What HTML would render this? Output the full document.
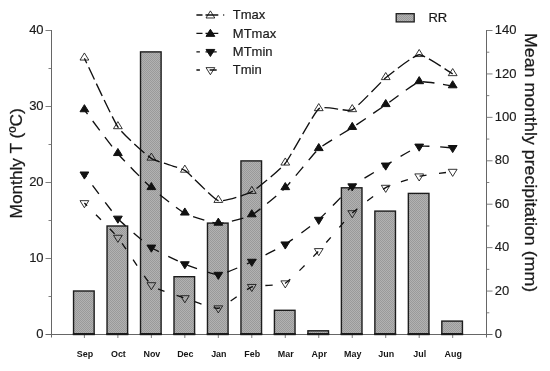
<!DOCTYPE html>
<html><head><meta charset="utf-8"><title>Monthly T and precipitation</title>
<style>
html,body{margin:0;padding:0;background:#fff;}
body{width:550px;height:371px;overflow:hidden;}
svg{display:block;}
text{font-family:"Liberation Sans",Arial,sans-serif;fill:#1a1a1a;}
.tk{font-size:13px;stroke:#1a1a1a;stroke-width:0.15px;}
.mo{font-size:9.5px;font-weight:bold;fill:#151515;}
.lg{font-size:13px;stroke:#1a1a1a;stroke-width:0.2px;}
.ln{fill:none;stroke:#111;stroke-width:1.35;}
</style></head><body>
<svg width="550" height="371" viewBox="0 0 550 371">
<defs><pattern id="dz" width="2" height="2" patternUnits="userSpaceOnUse"><rect width="2" height="2" fill="#b2b2b2"/><rect width="1" height="1" fill="#9a9a9a"/><rect x="1" y="1" width="1" height="1" fill="#9a9a9a"/></pattern></defs>
<rect width="550" height="371" fill="#fff"/>
<g stroke="#666" stroke-width="1" fill="none">
<path d="M51.50 30.00 V337.50"/>
<path d="M486.50 30.00 V337.50"/>
<path d="M45.50 334.50 H492.50"/>
</g>
<g stroke="#707070" stroke-width="0.9" fill="none">
<path d="M48.50 296.50 H51.50"/>
<path d="M45.50 258.50 H51.50"/>
<path d="M48.50 220.50 H51.50"/>
<path d="M45.50 182.50 H51.50"/>
<path d="M48.50 144.50 H51.50"/>
<path d="M45.50 106.50 H51.50"/>
<path d="M48.50 68.50 H51.50"/>
<path d="M45.50 30.50 H51.50"/>
<path d="M486.50 312.79 H489.30"/>
<path d="M486.50 291.07 H492.50"/>
<path d="M486.50 269.36 H489.30"/>
<path d="M486.50 247.64 H492.50"/>
<path d="M486.50 225.93 H489.30"/>
<path d="M486.50 204.21 H492.50"/>
<path d="M486.50 182.50 H489.30"/>
<path d="M486.50 160.79 H492.50"/>
<path d="M486.50 139.07 H489.30"/>
<path d="M486.50 117.36 H492.50"/>
<path d="M486.50 95.64 H489.30"/>
<path d="M486.50 73.93 H492.50"/>
<path d="M486.50 52.21 H489.30"/>
<path d="M486.50 30.50 H492.50"/>
<path d="M84.40 334.50 V338.00"/>
<path d="M117.88 334.50 V338.00"/>
<path d="M151.36 334.50 V338.00"/>
<path d="M184.84 334.50 V338.00"/>
<path d="M218.32 334.50 V338.00"/>
<path d="M251.80 334.50 V338.00"/>
<path d="M285.28 334.50 V338.00"/>
<path d="M318.76 334.50 V338.00"/>
<path d="M352.24 334.50 V338.00"/>
<path d="M385.72 334.50 V338.00"/>
<path d="M419.20 334.50 V338.00"/>
<path d="M452.68 334.50 V338.00"/>
</g>
<g fill="url(#dz)" stroke="#1c1c1c" stroke-width="1.4">
<rect x="73.55" y="291.00" width="20.60" height="43.50"/>
<rect x="107.03" y="226.00" width="20.60" height="108.50"/>
<rect x="140.51" y="51.90" width="20.60" height="282.60"/>
<rect x="173.99" y="276.70" width="20.60" height="57.80"/>
<rect x="207.47" y="223.10" width="20.60" height="111.40"/>
<rect x="240.95" y="160.90" width="20.60" height="173.60"/>
<rect x="274.43" y="310.30" width="20.60" height="24.20"/>
<rect x="307.91" y="330.80" width="20.60" height="3.70"/>
<rect x="341.39" y="187.80" width="20.60" height="146.70"/>
<rect x="374.87" y="211.10" width="20.60" height="123.40"/>
<rect x="408.35" y="193.40" width="20.60" height="141.10"/>
<rect x="441.83" y="321.10" width="20.60" height="13.40"/>
</g>
<g stroke="#1c1c1c" stroke-width="2" fill="none">
<path d="M72.85 334 H94.85"/>
<path d="M106.33 334 H128.33"/>
<path d="M139.81 334 H161.81"/>
<path d="M173.29 334 H195.29"/>
<path d="M206.77 334 H228.77"/>
<path d="M240.25 334 H262.25"/>
<path d="M273.73 334 H295.73"/>
<path d="M307.21 334 H329.21"/>
<path d="M340.69 334 H362.69"/>
<path d="M374.17 334 H396.17"/>
<path d="M407.65 334 H429.65"/>
<path d="M441.13 334 H463.13"/>
</g>
<text class="tk" x="43.6" y="338.20" text-anchor="end">0</text>
<text class="tk" x="43.6" y="262.20" text-anchor="end">10</text>
<text class="tk" x="43.6" y="186.20" text-anchor="end">20</text>
<text class="tk" x="43.6" y="110.20" text-anchor="end">30</text>
<text class="tk" x="43.6" y="34.20" text-anchor="end">40</text>
<text class="tk" x="494.7" y="338.20">0</text>
<text class="tk" x="494.7" y="294.77">20</text>
<text class="tk" x="494.7" y="251.34">40</text>
<text class="tk" x="494.7" y="207.91">60</text>
<text class="tk" x="494.7" y="164.49">80</text>
<text class="tk" x="494.7" y="121.06">100</text>
<text class="tk" x="494.7" y="77.63">120</text>
<text class="tk" x="494.7" y="34.20">140</text>
<text class="mo" transform="translate(84.90 356.5) scale(0.94 1)" text-anchor="middle">Sep</text>
<text class="mo" transform="translate(118.38 356.5) scale(0.94 1)" text-anchor="middle">Oct</text>
<text class="mo" transform="translate(151.86 356.5) scale(0.94 1)" text-anchor="middle">Nov</text>
<text class="mo" transform="translate(185.34 356.5) scale(0.94 1)" text-anchor="middle">Dec</text>
<text class="mo" transform="translate(218.82 356.5) scale(0.94 1)" text-anchor="middle">Jan</text>
<text class="mo" transform="translate(252.30 356.5) scale(0.94 1)" text-anchor="middle">Feb</text>
<text class="mo" transform="translate(285.78 356.5) scale(0.94 1)" text-anchor="middle">Mar</text>
<text class="mo" transform="translate(319.26 356.5) scale(0.94 1)" text-anchor="middle">Apr</text>
<text class="mo" transform="translate(352.74 356.5) scale(0.94 1)" text-anchor="middle">May</text>
<text class="mo" transform="translate(386.22 356.5) scale(0.94 1)" text-anchor="middle">Jun</text>
<text class="mo" transform="translate(419.70 356.5) scale(0.94 1)" text-anchor="middle">Jul</text>
<text class="mo" transform="translate(453.18 356.5) scale(0.94 1)" text-anchor="middle">Aug</text>
<path class="ln" stroke-dasharray="13.5 4.5" stroke-dashoffset="7.9" d="M84.40 58.28 C86.91 63.43 112.86 119.43 117.88 126.93 C122.90 134.44 146.34 155.12 151.36 158.38 C156.38 161.65 179.82 167.26 184.84 170.43 C189.86 173.61 213.30 199.09 218.32 200.68 C223.34 202.28 246.78 194.49 251.80 191.68 C256.82 188.88 280.26 169.49 285.28 163.28 C290.30 157.07 313.74 112.89 318.76 108.88 C323.78 104.88 347.22 112.21 352.24 109.88 C357.26 107.55 380.70 81.97 385.72 77.83 C390.74 73.70 414.18 55.08 419.20 54.78 C424.22 54.49 450.17 72.45 452.68 73.88"/>
<path class="ln" stroke-dasharray="11.5 8.5" stroke-dashoffset="6" d="M84.40 109.98 C86.91 113.27 112.86 147.94 117.88 153.78 C122.90 159.62 146.34 183.37 151.36 187.83 C156.38 192.30 179.82 210.61 184.84 213.28 C189.86 215.95 213.30 223.30 218.32 223.43 C223.34 223.56 246.78 217.70 251.80 215.03 C256.82 212.37 280.26 192.85 285.28 187.88 C290.30 182.92 313.74 153.35 318.76 148.83 C323.78 144.32 347.22 130.98 352.24 127.68 C357.26 124.38 380.70 108.26 385.72 104.83 C390.74 101.40 414.18 83.34 419.20 81.93 C424.22 80.52 450.17 85.73 452.68 86.03"/>
<path class="ln" stroke-dasharray="10.5 10.5" stroke-dashoffset="7.2" d="M84.40 174.37 C86.91 177.68 112.86 213.03 117.88 218.52 C122.90 224.00 146.34 244.05 151.36 247.47 C156.38 250.89 179.82 262.08 184.84 264.12 C189.86 266.16 213.30 274.85 218.32 274.67 C223.34 274.48 246.78 263.89 251.80 261.62 C256.82 259.34 280.26 247.46 285.28 244.32 C290.30 241.17 313.74 224.02 318.76 219.67 C323.78 215.31 347.22 190.29 352.24 186.22 C357.26 182.15 380.70 168.40 385.72 165.42 C390.74 162.44 414.18 147.78 419.20 146.47 C424.22 145.15 450.17 147.76 452.68 147.87"/>
<path class="ln" stroke-dasharray="7 12.5" stroke-dashoffset="3" d="M84.40 203.02 C86.91 205.61 112.86 231.46 117.88 237.62 C122.90 243.77 146.34 280.53 151.36 285.07 C156.38 289.60 179.82 296.33 184.84 298.07 C189.86 299.80 213.30 309.06 218.32 308.22 C223.34 307.37 246.78 288.69 251.80 286.82 C256.82 284.94 280.26 285.91 285.28 283.22 C290.30 280.53 313.74 256.23 318.76 250.97 C323.78 245.71 347.22 217.81 352.24 213.07 C357.26 208.32 380.70 190.43 385.72 187.67 C390.74 184.91 414.18 177.47 419.20 176.27 C424.22 175.07 450.17 172.01 452.68 171.67"/>
<path d="M84.40 52.95 L88.80 60.05 L80.00 60.05 Z" fill="none" stroke="#111" stroke-width="0.85"/>
<path d="M117.88 121.60 L122.28 128.70 L113.48 128.70 Z" fill="none" stroke="#111" stroke-width="0.85"/>
<path d="M151.36 153.05 L155.76 160.15 L146.96 160.15 Z" fill="none" stroke="#111" stroke-width="0.85"/>
<path d="M184.84 165.10 L189.24 172.20 L180.44 172.20 Z" fill="none" stroke="#111" stroke-width="0.85"/>
<path d="M218.32 195.35 L222.72 202.45 L213.92 202.45 Z" fill="none" stroke="#111" stroke-width="0.85"/>
<path d="M251.80 186.35 L256.20 193.45 L247.40 193.45 Z" fill="none" stroke="#111" stroke-width="0.85"/>
<path d="M285.28 157.95 L289.68 165.05 L280.88 165.05 Z" fill="none" stroke="#111" stroke-width="0.85"/>
<path d="M318.76 103.55 L323.16 110.65 L314.36 110.65 Z" fill="none" stroke="#111" stroke-width="0.85"/>
<path d="M352.24 104.55 L356.64 111.65 L347.84 111.65 Z" fill="none" stroke="#111" stroke-width="0.85"/>
<path d="M385.72 72.50 L390.12 79.60 L381.32 79.60 Z" fill="none" stroke="#111" stroke-width="0.85"/>
<path d="M419.20 49.45 L423.60 56.55 L414.80 56.55 Z" fill="none" stroke="#111" stroke-width="0.85"/>
<path d="M452.68 68.55 L457.08 75.65 L448.28 75.65 Z" fill="none" stroke="#111" stroke-width="0.85"/>
<path d="M84.40 104.65 L88.80 111.75 L80.00 111.75 Z" fill="#111" stroke="#111" stroke-width="1"/>
<path d="M117.88 148.45 L122.28 155.55 L113.48 155.55 Z" fill="#111" stroke="#111" stroke-width="1"/>
<path d="M151.36 182.50 L155.76 189.60 L146.96 189.60 Z" fill="#111" stroke="#111" stroke-width="1"/>
<path d="M184.84 207.95 L189.24 215.05 L180.44 215.05 Z" fill="#111" stroke="#111" stroke-width="1"/>
<path d="M218.32 218.10 L222.72 225.20 L213.92 225.20 Z" fill="#111" stroke="#111" stroke-width="1"/>
<path d="M251.80 209.70 L256.20 216.80 L247.40 216.80 Z" fill="#111" stroke="#111" stroke-width="1"/>
<path d="M285.28 182.55 L289.68 189.65 L280.88 189.65 Z" fill="#111" stroke="#111" stroke-width="1"/>
<path d="M318.76 143.50 L323.16 150.60 L314.36 150.60 Z" fill="#111" stroke="#111" stroke-width="1"/>
<path d="M352.24 122.35 L356.64 129.45 L347.84 129.45 Z" fill="#111" stroke="#111" stroke-width="1"/>
<path d="M385.72 99.50 L390.12 106.60 L381.32 106.60 Z" fill="#111" stroke="#111" stroke-width="1"/>
<path d="M419.20 76.60 L423.60 83.70 L414.80 83.70 Z" fill="#111" stroke="#111" stroke-width="1"/>
<path d="M452.68 80.70 L457.08 87.80 L448.28 87.80 Z" fill="#111" stroke="#111" stroke-width="1"/>
<path d="M84.40 179.10 L88.80 172.00 L80.00 172.00 Z" fill="#111" stroke="#111" stroke-width="1"/>
<path d="M117.88 223.25 L122.28 216.15 L113.48 216.15 Z" fill="#111" stroke="#111" stroke-width="1"/>
<path d="M151.36 252.20 L155.76 245.10 L146.96 245.10 Z" fill="#111" stroke="#111" stroke-width="1"/>
<path d="M184.84 268.85 L189.24 261.75 L180.44 261.75 Z" fill="#111" stroke="#111" stroke-width="1"/>
<path d="M218.32 279.40 L222.72 272.30 L213.92 272.30 Z" fill="#111" stroke="#111" stroke-width="1"/>
<path d="M251.80 266.35 L256.20 259.25 L247.40 259.25 Z" fill="#111" stroke="#111" stroke-width="1"/>
<path d="M285.28 249.05 L289.68 241.95 L280.88 241.95 Z" fill="#111" stroke="#111" stroke-width="1"/>
<path d="M318.76 224.40 L323.16 217.30 L314.36 217.30 Z" fill="#111" stroke="#111" stroke-width="1"/>
<path d="M352.24 190.95 L356.64 183.85 L347.84 183.85 Z" fill="#111" stroke="#111" stroke-width="1"/>
<path d="M385.72 170.15 L390.12 163.05 L381.32 163.05 Z" fill="#111" stroke="#111" stroke-width="1"/>
<path d="M419.20 151.20 L423.60 144.10 L414.80 144.10 Z" fill="#111" stroke="#111" stroke-width="1"/>
<path d="M452.68 152.60 L457.08 145.50 L448.28 145.50 Z" fill="#111" stroke="#111" stroke-width="1"/>
<path d="M84.40 207.75 L88.80 200.65 L80.00 200.65 Z" fill="none" stroke="#111" stroke-width="0.85"/>
<path d="M117.88 242.35 L122.28 235.25 L113.48 235.25 Z" fill="none" stroke="#111" stroke-width="0.85"/>
<path d="M151.36 289.80 L155.76 282.70 L146.96 282.70 Z" fill="none" stroke="#111" stroke-width="0.85"/>
<path d="M184.84 302.80 L189.24 295.70 L180.44 295.70 Z" fill="none" stroke="#111" stroke-width="0.85"/>
<path d="M218.32 312.95 L222.72 305.85 L213.92 305.85 Z" fill="none" stroke="#111" stroke-width="0.85"/>
<path d="M251.80 291.55 L256.20 284.45 L247.40 284.45 Z" fill="none" stroke="#111" stroke-width="0.85"/>
<path d="M285.28 287.95 L289.68 280.85 L280.88 280.85 Z" fill="none" stroke="#111" stroke-width="0.85"/>
<path d="M318.76 255.70 L323.16 248.60 L314.36 248.60 Z" fill="none" stroke="#111" stroke-width="0.85"/>
<path d="M352.24 217.80 L356.64 210.70 L347.84 210.70 Z" fill="none" stroke="#111" stroke-width="0.85"/>
<path d="M385.72 192.40 L390.12 185.30 L381.32 185.30 Z" fill="none" stroke="#111" stroke-width="0.85"/>
<path d="M419.20 181.00 L423.60 173.90 L414.80 173.90 Z" fill="none" stroke="#111" stroke-width="0.85"/>
<path d="M452.68 176.40 L457.08 169.30 L448.28 169.30 Z" fill="none" stroke="#111" stroke-width="0.85"/>
<path d="M196.4 15.00 H202.5 M205.5 15.00 H218.3" stroke="#111" stroke-width="1.35" fill="none"/>
<path d="M223.2 15.00 H224.2" stroke="#111" stroke-width="1.35"/>
<path d="M210.40 10.87 L214.80 17.97 L206.00 17.97 Z" fill="none" stroke="#111" stroke-width="0.85"/>
<text class="lg" x="232.8" y="19.10">Tmax</text>
<path d="M196.4 33.40 H202.5 M205.5 33.40 H218.3" stroke="#111" stroke-width="1.35" fill="none"/>
<path d="M210.40 29.27 L214.80 36.37 L206.00 36.37 Z" fill="#111" stroke="#111" stroke-width="1"/>
<text class="lg" x="232.8" y="37.50">MTmax</text>
<path d="M196.4 51.80 H199.9 M205.5 51.80 H216.7" stroke="#111" stroke-width="1.35" fill="none"/>
<path d="M210.40 56.53 L214.80 49.43 L206.00 49.43 Z" fill="#111" stroke="#111" stroke-width="1"/>
<text class="lg" x="232.8" y="55.90">MTmin</text>
<path d="M196.4 70.00 H199.9 M209.6 70.00 H216.7" stroke="#111" stroke-width="1.35" fill="none"/>
<path d="M210.40 74.73 L214.80 67.63 L206.00 67.63 Z" fill="none" stroke="#111" stroke-width="0.85"/>
<text class="lg" x="232.8" y="74.10">Tmin</text>
<rect x="396.2" y="13.7" width="18" height="8.2" fill="url(#dz)" stroke="#1c1c1c" stroke-width="1.3"/>
<text class="lg" x="428.4" y="21.9">RR</text>
<text id="tl" transform="translate(22.1 218.5) rotate(-90) scale(1.005 1)" font-size="17.2" stroke="#1a1a1a" stroke-width="0.25" x="0" y="0">Monthly T (ºC)</text>
<text id="tr" transform="translate(525.4 33.0) rotate(90) scale(1.035 1)" font-size="17.2" stroke="#1a1a1a" stroke-width="0.25" x="0" y="0">Mean monthly precipitation (mm)</text>
</svg></body></html>
